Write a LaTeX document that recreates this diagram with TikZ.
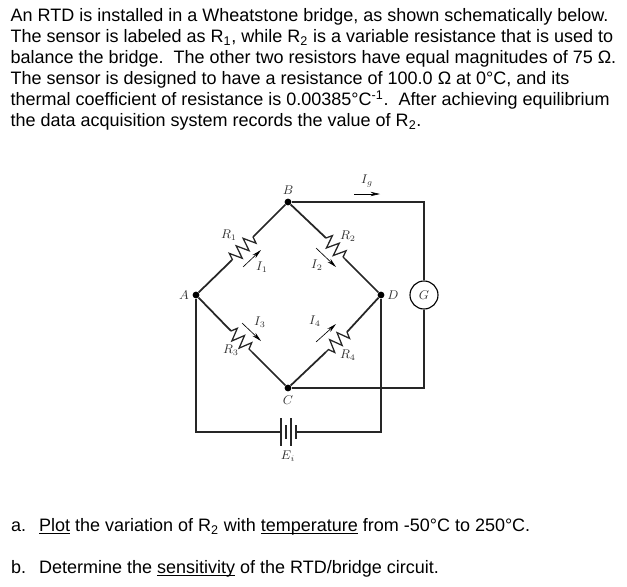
\documentclass[tikz,border=0pt]{standalone}
\usepackage{fontspec}
\setmainfont{Liberation Sans}
\usetikzlibrary{positioning}
\usetikzlibrary{arrows.meta}
\usetikzlibrary{decorations.pathmorphing}
\newcommand{\ulword}[1]{\underline{\smash{#1}}}
\tikzset{
    wire/.style={line width=1.25pt,draw=black!85},
    resistor/.style={line width=0.9pt,draw=black!85,decorate,
        decoration={zigzag,segment length=0.255cm,amplitude=0.16cm}},
    current/.style={line width=0.45pt,-{Stealth[length=2.4mm,width=1.1mm]}},
    junction/.style={anchor=center,circle,fill=black,inner sep=0pt,minimum size=0.17cm},
    gauge/.style={anchor=center,draw,line width=0.8pt,circle,inner sep=0pt,minimum size=0.7cm,text=black!80,font=\fontsize{9}{10}\selectfont},
    lbl/.style={anchor=center,inner sep=0pt,font=\fontsize{9}{10}\selectfont,text=black!80},
    plate/.style={anchor=center,rectangle,fill=black!85,inner sep=0pt,minimum width=0.9pt},
    prose/.style={inner sep=0pt,anchor=north west,align=left,
        font=\fontsize{12.8}{14.9}\selectfont},
}
\begin{document}
\begin{tikzpicture}[on grid]
    \useasboundingbox (0,0) rectangle (15.675,14.65);
    %% text
    \node[prose] (intro) at (0.26,14.445) {An RTD is installed in a Wheatstone bridge, as shown schematically below.\\
        The sensor is labeled as R\textsubscript{1}, while R\textsubscript{2} is a variable resistance that is used to\\
        balance the bridge.\ \ The other two resistors have equal magnitudes of 75 Ω.\\
        The sensor is designed to have a resistance of 100.0 Ω at 0°C, and its\\
        thermal coefficient of resistance is 0.00385°C\textsuperscript{-1}.\ \ After achieving equilibrium\\
        the data acquisition system records the value of R\textsubscript{2}.};
    \node[prose] (parta) at (0.27,1.705) {a.\ \ \,\ulword{Plot} the variation of R\textsubscript{2} with \ulword{temperature} from -50°C to 250°C.};
    \node[prose] (partb) at (0.27,0.655) {b.\ \ \,Determine the \ulword{sensitivity} of the RTD/bridge circuit.};
    %% vertices
    \coordinate (o) at (7.2,7.275);
    \node[above right=2.325 and 0 of o,junction] (B) {};
    \node[above right=0 and -2.3 of o,junction] (A) {};
    \node[above right=0 and 2.325 of o,junction] (D) {};
    \node[above right=-2.325 and 0 of o,junction] (C) {};
    \node[above right=0 and 3.4 of o,gauge] (G) {$G$};
    %% resistor ends
    \coordinate[above right=1.45 and -0.875 of o] (r1a);
    \coordinate[above right=0.875 and -1.4 of o] (r1b);
    \coordinate[above right=1.425 and 0.95 of o] (r2a);
    \coordinate[above right=0.9 and 1.425 of o] (r2b);
    \coordinate[above right=-0.9 and -1.425 of o] (r3a);
    \coordinate[above right=-1.425 and -0.9 of o] (r3b);
    \coordinate[above right=-0.925 and 1.475 of o] (r4a);
    \coordinate[above right=-1.425 and 0.95 of o] (r4b);
    %% battery
    \node[above right=-3.425 and -0.175 of o,plate,minimum height=0.72cm] (e1) {};
    \node[above right=-3.425 and -0.05 of o,plate,minimum height=0.34cm] (e2) {};
    \node[above right=-3.425 and 0.075 of o,plate,minimum height=0.72cm] (e3) {};
    \node[above right=-3.425 and 0.2 of o,plate,minimum height=0.34cm] (e4) {};
    %% wires
    \draw[wire] (B)--(r1a) (r1b)--(A);
    \draw[wire] (B)--(r2a) (r2b)--(D);
    \draw[wire] (A)--(r3a) (r3b)--(C);
    \draw[wire] (D)--(r4a) (r4b)--(C);
    \draw[wire] (B) -| (G);
    \draw[wire] (G) |- (C);
    \draw[wire] (A) |- (e1);
    \draw[wire] (D) |- (e4);
    %% resistors
    \draw[resistor] (r1a)--(r1b);
    \draw[resistor] (r2a)--(r2b);
    \draw[resistor] (r3a)--(r3b);
    \draw[resistor] (r4a)--(r4b);
    %% currents
    \coordinate[above right=0.7 and -1.125 of o] (i1a);
    \coordinate[above right=1.125 and -0.675 of o] (i1b);
    \coordinate[above right=1.175 and 0.7 of o] (i2a);
    \coordinate[above right=0.7 and 1.2 of o] (i2b);
    \coordinate[above right=-0.7 and -1.15 of o] (i3a);
    \coordinate[above right=-1.15 and -0.675 of o] (i3b);
    \coordinate[above right=-1.175 and 0.7 of o] (i4a);
    \coordinate[above right=-0.725 and 1.2 of o] (i4b);
    \coordinate[above right=2.525 and 1.65 of o] (iga);
    \coordinate[above right=2.525 and 2.3 of o] (igb);
    \draw[current] (i1a)--(i1b);
    \draw[current] (i2a)--(i2b);
    \draw[current] (i3a)--(i3b);
    \draw[current] (i4a)--(i4b);
    \draw[current] (iga)--(igb);
    %% labels
    \node[above right=2.625 and 0 of o,lbl] (tB) {$B$};
    \node[above right=0 and -2.6 of o,lbl] (tA) {$A$};
    \node[above right=0 and 2.625 of o,lbl] (tD) {$D$};
    \node[above right=-2.625 and 0 of o,lbl] (tC) {$C$};
    \node[above right=-4.025 and 0 of o,lbl] (tE) {$E_i$};
    \node[above right=1.5 and -1.475 of o,lbl] (tR1) {$R_1$};
    \node[above right=1.475 and 1.5 of o,lbl] (tR2) {$R_2$};
    \node[above right=-1.375 and -1.425 of o,lbl] (tR3) {$R_3$};
    \node[above right=-1.5 and 1.5 of o,lbl] (tR4) {$R_4$};
    \node[above right=0.7 and -0.65 of o,lbl] (tI1) {$I_1$};
    \node[above right=0.75 and 0.725 of o,lbl] (tI2) {$I_2$};
    \node[above right=-0.675 and -0.7 of o,lbl] (tI3) {$I_3$};
    \node[above right=-0.65 and 0.675 of o,lbl] (tI4) {$I_4$};
    \node[above right=2.85 and 1.975 of o,lbl] (tIg) {$I_g$};
\end{tikzpicture}
\end{document}
